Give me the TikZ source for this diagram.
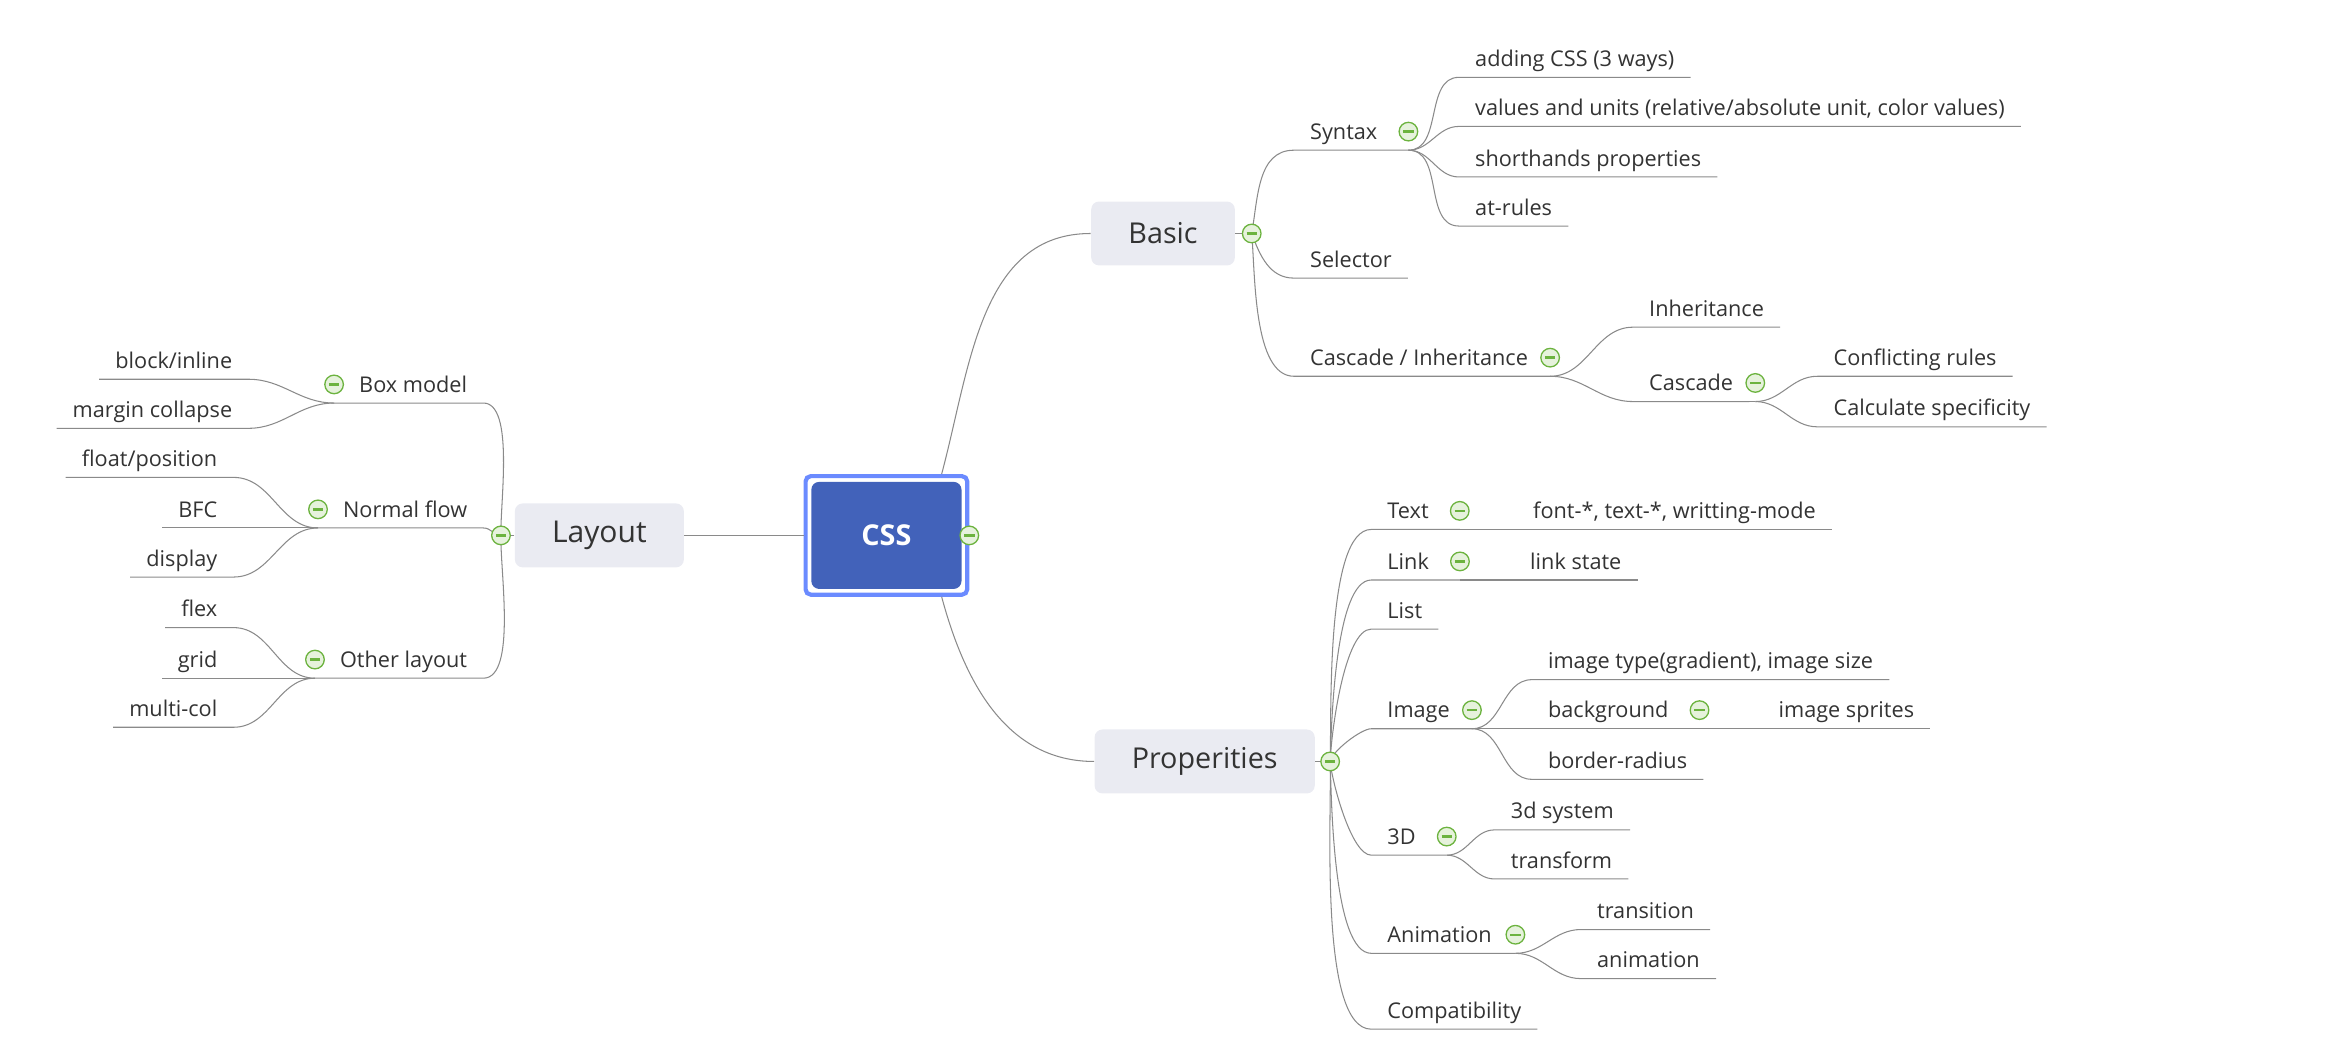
\documentclass[tikz,border=0pt]{standalone}
\usepackage{fontspec}
\setmainfont{Open Sans}
\usetikzlibrary{positioning, fit, calc}

\definecolor{ink}{HTML}{333333}
\definecolor{wire}{HTML}{8A8A8A}
\definecolor{topicbg}{HTML}{EAEBF2}
\definecolor{cssbg}{HTML}{4262BA}
\definecolor{cssedge}{HTML}{6B8BFF}
\definecolor{knobgreen}{HTML}{6CB33F}
\definecolor{knobbg}{HTML}{E6F2DC}

\begin{document}
\begin{tikzpicture}[
        x=0.02cm, y=-0.02cm,
        every node/.style={font=\fontsize{8.3}{10}\selectfont, text=ink},
        topic/.style={fill=topicbg, rounded corners=3pt, minimum height=0.86cm, inner xsep=0.5cm, font=\fontsize{11}{13}\selectfont},
        leaf/.style={anchor=south west, inner xsep=6pt, inner ysep=1.3pt, text height=1.6ex, text depth=.5ex},
        lleaf/.style={leaf, anchor=south east},
        knob/.style={circle, draw=knobgreen, fill=knobbg, line width=0.5pt, minimum size=0.25cm, inner sep=0pt,
            path picture={\draw[draw=knobgreen, line width=0.9pt] ([xshift=-0.07cm]path picture bounding box.center) -- ([xshift=0.07cm]path picture bounding box.center);}},
        link/.style={draw=wire, line width=0.4pt}
    ]
    \useasboundingbox (0,0) rectangle (1568,715);

    % Central and main topics
    \node[fill=cssbg, rounded corners=3pt, minimum width=2.02cm, minimum height=1.44cm, text=white, font=\fontsize{11}{13}\bfseries] (css) at (596,360) {CSS};
    \node[fit=(css), inner sep=0.07cm, draw=cssedge, line width=1.6pt, rounded corners=2pt] (cssf) {};
    \node[topic] (basic) at (782,157) {Basic};
    \node[topic] (props) at (810,512) {Properities};
    \node[topic, font=\fontsize{11.5}{13}\selectfont] (layout) at (403,360) {Layout};

    % Basic branch
    \node[leaf] (syntax) at (870,101) {Syntax};
    \node[leaf] (selector) at (870,187) {Selector};
    \node[leaf] (cascinh) at (870,253) {Cascade / Inheritance};
    \node[leaf] (adding) at (981,52) {adding CSS (3 ways)};
    \node[leaf] (values) at (981,85) {values and units (relative/absolute unit, color values)};
    \node[leaf] (short) at (981,119) {shorthands properties};
    \node[leaf] (atrules) at (981,152) {at-rules};
    \node[leaf] (inherit) at (1098,220) {Inheritance};
    \node[leaf] (cascade) at (1098,270) {Cascade};
    \node[leaf] (conflict) at (1222,253) {Conflicting rules};
    \node[leaf] (specif) at (1222,287) {Calculate specificity};

    % Properities branch
    \node[leaf] (text) at (922,356) {Text};
    \node[leaf] (linkp) at (922,390) {Link};
    \node[leaf] (list) at (922,423) {List};
    \node[leaf] (image) at (922,490) {Image};
    \node[leaf] (threed) at (922,575) {3D};
    \node[leaf] (anim) at (922,641) {Animation};
    \node[leaf] (compat) at (922,692) {Compatibility};
    \node[leaf] (fonts) at (1020,356) {font-*, text-*, writting-mode};
    \node[leaf] (lstate) at (1018,390) {link state};
    \node[leaf] (imgtype) at (1030,457) {image type(gradient), image size};
    \node[leaf] (backgr) at (1030,490) {background};
    \node[leaf] (bradius) at (1030,524) {border-radius};
    \node[leaf] (sprites) at (1185,490) {image sprites};
    \node[leaf] (sys3d) at (1005,558) {3d system};
    \node[leaf] (transf) at (1005,591) {transform};
    \node[leaf] (transi) at (1063,625) {transition};
    \node[leaf] (animat) at (1063,658) {animation};

    % Layout branch
    \node[lleaf] (boxm) at (325,271) {Box model};
    \node[lleaf] (normf) at (325,355) {Normal flow};
    \node[lleaf] (other) at (325,456) {Other layout};
    \node[lleaf] (block) at (167,255) {block/inline};
    \node[lleaf] (margin) at (167,288) {margin collapse};
    \node[lleaf] (float) at (157,321) {float/position};
    \node[lleaf] (bfc) at (157,355) {BFC};
    \node[lleaf] (display) at (157,388) {display};
    \node[lleaf] (flex) at (157,422) {flex};
    \node[lleaf] (grid) at (157,456) {grid};
    \node[lleaf] (multi) at (157,489) {multi-col};

    % Knob places
    \coordinate (css-k) at (cssf.east);
    \coordinate[right=0.22cm of basic.east] (basic-k);
    \coordinate[right=0.2cm of props.east] (props-k);
    \coordinate[left=0.18cm of layout.west] (layout-k);
    \coordinate[right=0.2cm of syntax.east] (syntax-k);
    \coordinate[right=0.08cm of cascinh.east] (cascinh-k);
    \coordinate[right=0.08cm of cascade.east] (cascade-k);
    \coordinate[right=0.2cm of text.east] (text-k);
    \coordinate[right=0.2cm of linkp.east] (linkp-k);
    \coordinate[right=0.08cm of image.east] (image-k);
    \coordinate[right=0.2cm of backgr.east] (backgr-k);
    \coordinate[right=0.2cm of threed.east] (threed-k);
    \coordinate[right=0.1cm of anim.east] (anim-k);
    \coordinate[left=0.12cm of boxm.west] (boxm-k);
    \coordinate[left=0.12cm of normf.west] (normf-k);
    \coordinate[left=0.12cm of other.west] (other-k);

    % Ends of the parent underlines
    \foreach \p in {syntax, cascinh, cascade, text, linkp, image, backgr, threed, anim, boxm, normf, other}
        \coordinate (\p-e) at (\p-k |- \p.south);

    % Main connectors
    \draw[link] (layout) -- (cssf);
    \draw[link] (cssf.48) to[out=75, in=180] (basic.west);
    \draw[link] (cssf.-48) to[out=-75, in=180] (props.west);

    % Basic connectors
    \draw[link] (basic) -- (basic-k);
    \draw[link] (basic-k) to[out=80, in=180] (syntax.south west) -- (syntax-e);
    \draw[link] (basic-k) to[out=-70, in=180] (selector.south west) -- (selector.south east);
    \draw[link] (basic-k) to[out=-85, in=180, looseness=0.7] (cascinh.south west) -- (cascinh-e);
    \foreach \c in {adding, values, short, atrules}
        \draw[link] (syntax-e) to[out=0, in=180] (\c.south west) -- (\c.south east);
    \foreach \c in {inherit, cascade}
        \draw[link] (cascinh-e) to[out=0, in=180] (\c.south west) -- (\c.south east);
    \draw[link] (cascade.south east) -- (cascade-e);
    \foreach \c in {conflict, specif}
        \draw[link] (cascade-e) to[out=0, in=180] (\c.south west) -- (\c.south east);

    % Properities connectors
    \draw[link] (props) -- (props-k);
    \foreach \c/\a in {text/88, linkp/88, image/80, threed/-85, anim/-88}
        \draw[link] (props-k) to[out=\a, in=180, looseness=0.5] (\c.south west) -- (\c-e);
    \foreach \c/\a in {list/88, compat/-88}
        \draw[link] (props-k) to[out=\a, in=180, looseness=0.5] (\c.south west) -- (\c.south east);
    \draw[link] (text-e) -- (fonts.south west) -- (fonts.south east);
    \draw[link] (linkp-e) -- (lstate.south west) -- (lstate.south east);
    \foreach \c in {imgtype, backgr, bradius}
        \draw[link] (image-e) to[out=0, in=180] (\c.south west) -- (\c.south east);
    \draw[link] (backgr.south east) -- (backgr-e) -- (sprites.south west) -- (sprites.south east);
    \foreach \c in {sys3d, transf}
        \draw[link] (threed-e) to[out=0, in=180] (\c.south west) -- (\c.south east);
    \foreach \c in {transi, animat}
        \draw[link] (anim-e) to[out=0, in=180] (\c.south west) -- (\c.south east);

    % Layout connectors
    \draw[link] (layout) -- (layout-k);
    \draw[link] (layout-k) to[out=92, in=0, looseness=0.6] (boxm.south east) -- (boxm-e);
    \draw[link] (layout-k) to[out=175, in=0] (normf.south east) -- (normf-e);
    \draw[link] (layout-k) to[out=-92, in=0, looseness=0.6] (other.south east) -- (other-e);
    \foreach \c in {block, margin}
        \draw[link] (boxm-e) to[out=180, in=0] (\c.south east) -- (\c.south west);
    \foreach \c in {float, bfc, display}
        \draw[link] (normf-e) to[out=180, in=0] (\c.south east) -- (\c.south west);
    \foreach \c in {flex, grid, multi}
        \draw[link] (other-e) to[out=180, in=0] (\c.south east) -- (\c.south west);

    % Knobs on top of the wires
    \foreach \k in {css, basic, props, layout, syntax, cascinh, cascade, text, linkp, image, backgr, threed, anim, boxm, normf, other}
        \node[knob] (\k-knob) at (\k-k) {};
\end{tikzpicture}
\end{document}
